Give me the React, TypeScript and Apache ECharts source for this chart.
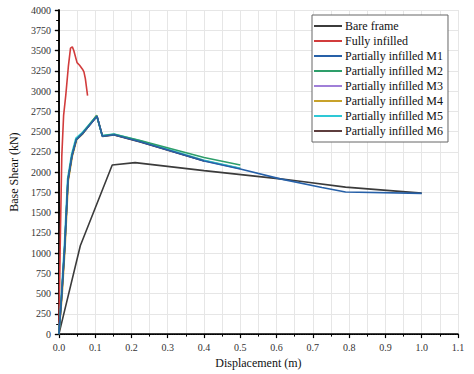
import React, { useEffect, useRef } from "react";
import * as echarts from "echarts";

const seriesNames = [
  "Bare frame",
  "Fully infilled",
  "Partially infilled M1",
  "Partially infilled M2",
  "Partially infilled M3",
  "Partially infilled M4",
  "Partially infilled M5",
  "Partially infilled M6",
];
const seriesColors = ["#3b3b3b", "#d23c3c", "#2660a8", "#2e9e6a", "#a07fd8", "#c8a22a", "#2ec8d6", "#5e3e3e"];

const bareFrame: [number, number][] = [
  [0, 0], [0.059, 1090], [0.147, 2087], [0.21, 2116], [0.4, 2018], [0.61, 1916], [0.67, 1884], [0.79, 1814], [1.0, 1740],
];
const fullyInfilled: [number, number][] = [
  [0, 0], [0.004, 1200], [0.008, 2200], [0.013, 2700], [0.019, 2950], [0.026, 3300], [0.032, 3530], [0.037, 3545],
  [0.041, 3500], [0.05, 3350], [0.057, 3318], [0.065, 3270], [0.069, 3237], [0.073, 3150], [0.079, 2943],
];
const m1: [number, number][] = [
  [0, 0], [0.008, 500], [0.016, 1070], [0.025, 1900], [0.036, 2200], [0.048, 2400], [0.066, 2480], [0.105, 2690],
  [0.12, 2442], [0.152, 2460], [0.224, 2373], [0.4, 2136], [0.5, 2038], [0.61, 1916], [0.725, 1810], [0.79, 1753], [1.0, 1737],
];
const m2: [number, number][] = [
  [0, 0], [0.008, 510], [0.016, 1080], [0.025, 1910], [0.036, 2210], [0.048, 2405], [0.066, 2485], [0.104, 2695],
  [0.12, 2446], [0.152, 2465], [0.224, 2390], [0.4, 2180], [0.5, 2087],
];
const m3: [number, number][] = [
  [0, 0], [0.008, 505], [0.016, 1075], [0.025, 1905], [0.036, 2205], [0.048, 2402], [0.066, 2482], [0.105, 2692],
  [0.12, 2444], [0.152, 2462], [0.224, 2376], [0.4, 2140], [0.5, 2042],
];
const m4: [number, number][] = [
  [0, 0], [0.009, 480], [0.017, 1060], [0.026, 1890], [0.037, 2195], [0.049, 2398], [0.067, 2478], [0.104, 2700],
  [0.12, 2444], [0.152, 2462], [0.224, 2378], [0.4, 2142], [0.5, 2044],
];
const m5: [number, number][] = [
  [0, 0], [0.007, 520], [0.015, 1090], [0.024, 1920], [0.035, 2220], [0.047, 2420], [0.065, 2490], [0.104, 2696],
  [0.119, 2450], [0.152, 2470], [0.224, 2385], [0.4, 2146], [0.5, 2046],
];
const m6: [number, number][] = [
  [0, 0], [0.008, 495], [0.016, 1065], [0.025, 1895], [0.036, 2198], [0.048, 2398], [0.066, 2478], [0.105, 2688],
  [0.12, 2440], [0.152, 2458], [0.224, 2372], [0.4, 2136],
];
const seriesData = [bareFrame, fullyInfilled, m1, m2, m3, m4, m5, m6];
const seriesZ = [2, 2, 9, 8, 3, 4, 5, 6];

const xTickLabels = ["0.0", "0.1", "0.2", "0.3", "0.4", "0.5", "0.6", "0.7", "0.8", "0.9", "1.0", "1.1"];

const FONT = "Liberation Serif";

export default function App() {
  const ref = useRef<HTMLDivElement>(null);
  useEffect(() => {
    if (!ref.current) return;
    const chart = echarts.init(ref.current, null, { renderer: "svg" });
    const axisLine = { lineStyle: { color: "#000", width: 1.5 } };
    chart.setOption({
      animation: false,
      backgroundColor: "#fff",
      textStyle: { fontFamily: FONT },
      grid: { left: 52, right: 16, top: 10, bottom: 37, containLabel: false },
      legend: {
        data: seriesNames,
        orient: "vertical",
        left: 312,
        top: 15,
        padding: [5, 5, 5, 2],
        itemGap: 3,
        itemWidth: 28,
        itemHeight: 2,
        icon: "rect",
        borderColor: "#666",
        borderWidth: 1,
        backgroundColor: "#fff",
        textStyle: { fontFamily: FONT, fontSize: 12, color: "#111", padding: [0, 0, 0, -2] },
      },
      xAxis: [
        {
          type: "value",
          min: 0,
          max: 1.1,
          interval: 0.1,
          name: "Displacement (m)",
          nameLocation: "middle",
          nameGap: 20,
          nameTextStyle: { fontFamily: FONT, fontSize: 12, color: "#111" },
          axisLine,
          axisTick: { show: true, inside: false, length: 4, lineStyle: { color: "#000", width: 1.2 } },
          minorTick: { show: true, splitNumber: 2, length: 2.5, lineStyle: { color: "#000", width: 1 } },
          axisLabel: {
            fontFamily: FONT,
            fontSize: 10,
            color: "#333",
            margin: 8,
            formatter: (v: number) => xTickLabels[Math.round(v * 10)] ?? v.toFixed(1),
          },
          splitLine: { show: true, lineStyle: { color: "#e6e6e6", width: 1 } },
          minorSplitLine: { show: true, lineStyle: { color: "#e6e6e6", width: 1 } },
        },
        {
          type: "value",
          position: "top",
          min: 0,
          max: 1.1,
          interval: 0.1,
          axisLine: { show: true, lineStyle: { color: "#000", width: 1.2, type: "dotted" } },
          axisTick: { show: false },
          axisLabel: { show: false },
          splitLine: { show: false },
        },
      ],
      yAxis: [
        {
          type: "value",
          min: 0,
          max: 4000,
          interval: 250,
          name: "Base Shear (kN)",
          nameLocation: "middle",
          nameGap: 38,
          nameTextStyle: { fontFamily: FONT, fontSize: 12, color: "#111" },
          axisLine,
          axisTick: { show: true, inside: false, length: 4, lineStyle: { color: "#000", width: 1.2 } },
          minorTick: { show: true, splitNumber: 2, length: 2.5, lineStyle: { color: "#000", width: 1 } },
          axisLabel: { fontFamily: FONT, fontSize: 10, color: "#333", margin: 8, formatter: (v: number) => String(v) },
          splitLine: { show: true, lineStyle: { color: "#e6e6e6", width: 1 } },
        },
        {
          type: "value",
          position: "right",
          min: 0,
          max: 4000,
          interval: 250,
          axisLine: { show: true, lineStyle: { color: "#000", width: 1.5 } },
          axisTick: { show: true, inside: true, length: 4, lineStyle: { color: "#000", width: 1.2 } },
          minorTick: { show: true, splitNumber: 2, length: 2.5, lineStyle: { color: "#000", width: 1 } },
          axisLabel: { show: false },
          splitLine: { show: false },
        },
      ],
      series: seriesNames.map((name, i) => ({
        name,
        type: "line",
        data: seriesData[i],
        showSymbol: false,
        symbol: "none",
        z: seriesZ[i],
        color: seriesColors[i],
        lineStyle: { width: 1.6, color: seriesColors[i] },
      })),
    });
    return () => chart.dispose();
  }, []);
  return <div ref={ref} style={{ width: 474, height: 374, position: "absolute", left: 0, top: 0 }} />;
}
